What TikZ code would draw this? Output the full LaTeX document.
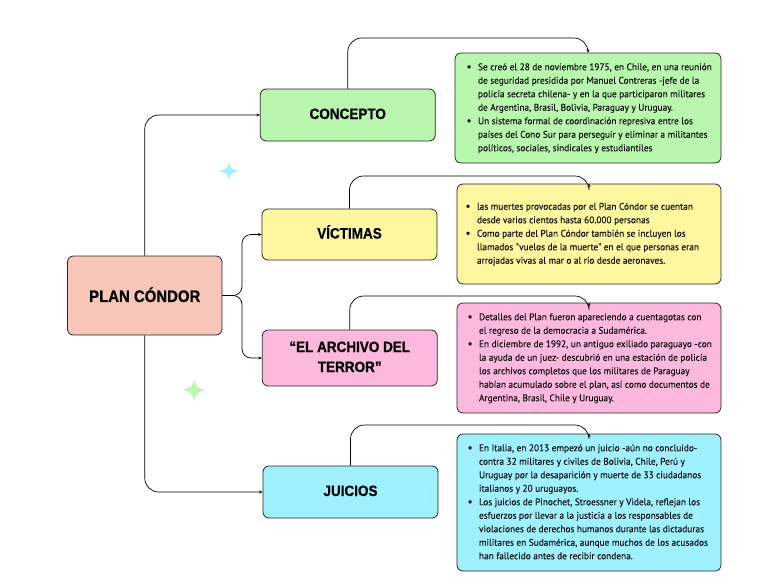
\documentclass[tikz,border=0pt]{standalone}
\usepackage{fontspec}
\setmainfont{PT Sans}
\newfontfamily\headfont[FakeStretch=0.90,FakeBold=0.6,BoldFeatures={FakeStretch=0.90,FakeBold=0.6}]{Liberation Sans}
\newfontfamily\bodyfont[FakeStretch=0.972,FakeBold=0.12]{PT Sans}
\usetikzlibrary{arrows.meta}
\definecolor{cgreen}{HTML}{B9F6AE}
\definecolor{cyellow}{HTML}{FFF6A0}
\definecolor{cpink}{HTML}{FDB9DD}
\definecolor{ccyan}{HTML}{A0F1FF}
\definecolor{csalmon}{HTML}{F8C6B8}
\definecolor{ink}{HTML}{111111}
\newcommand{\bul}{\makebox[0pt][r]{\raisebox{0pt}{\fontsize{11}{11}\selectfont\textbullet}\hspace{6.5pt}}}
\newcommand{\bodytext}[3]{\makebox[#1pt][l]{\hspace{#2pt}\begin{tabular}{@{}l@{}}#3\end{tabular}}}
\newcommand{\headraise}[1]{\raisebox{1.8pt}{\begin{tabular}{@{}c@{}}#1\end{tabular}}}
\tikzset{
  x=1pt,y=-1pt,
  box/.style={draw=black!85,line width=0.8pt,rounded corners=6pt,inner sep=0pt,anchor=center},
  headbox/.style={box,align=center,text=black,font=\headfont\bfseries\fontsize{15}{20}\selectfont},
  textbox/.style={box,text=ink,font=\bodyfont\fontsize{9.6}{13.5}\selectfont},
  link/.style={draw=black,line width=0.7pt,-{Stealth[length=3.5pt,width=3pt]}}
}
\newcommand{\starshape}[4]{\fill[#4] (#1,#2-#3) .. controls (#1+0.12*#3,#2-0.12*#3-2) and (#1+0.2*#3,#2-0.2*#3) .. (#1+#3,#2)
 .. controls (#1+0.2*#3,#2+0.2*#3) and (#1+0.12*#3,#2+0.12*#3+2) .. (#1,#2+#3)
 .. controls (#1-0.12*#3,#2+0.12*#3+2) and (#1-0.2*#3,#2+0.2*#3) .. (#1-#3,#2)
 .. controls (#1-0.2*#3,#2-0.2*#3) and (#1-0.12*#3,#2-0.12*#3-2) .. cycle;}
\begin{document}
\begin{tikzpicture}
\useasboundingbox[fill=white] (0,0) rectangle (768,576);
% main nodes
\node[headbox,fill=csalmon,minimum width=154.5pt,minimum height=79pt] (plan) at (144.75,295.5) {\raisebox{1.8pt}{\fontsize{16.6}{20}\selectfont PLAN CÓNDOR}};
\node[headbox,fill=cgreen,minimum width=175pt,minimum height=52pt] (concepto) at (347.75,115) {\headraise{CONCEPTO}};
\node[headbox,fill=cyellow,minimum width=175pt,minimum height=51pt] (victimas) at (349.5,234.5) {\headraise{VÍCTIMAS}};
\node[headbox,fill=cpink,minimum width=175pt,minimum height=56pt] (archivo) at (349.75,358) {\headraise{“EL ARCHIVO DEL\\TERROR”}};
\node[headbox,fill=ccyan,minimum width=175pt,minimum height=52pt] (juicios) at (350.5,492) {\headraise{JUICIOS}};
% text boxes
\node[textbox,fill=cgreen,minimum width=266pt,minimum height=110pt] (tconcepto) at (588,108) {\bodytext{266}{23}{%
\bul Se creó el 28 de noviembre 1975, en Chile, en una reunión\\
de seguridad presidida por Manuel Contreras -jefe de la\\
policía secreta chilena- y en la que participaron militares\\
de Argentina, Brasil, Bolivia, Paraguay y Uruguay.\\
\bul Un sistema formal de coordinación represiva entre los\\
países del Cono Sur para perseguir y eliminar a militantes\\
políticos, sociales, sindicales y estudiantiles}};
\node[textbox,fill=cyellow,minimum width=264pt,minimum height=100pt] (tvictimas) at (589,234) {\bodytext{264}{20}{%
\bul las muertes provocadas por el Plan Cóndor se cuentan\\
desde varios cientos hasta 60.000 personas\\
\bul Como parte del Plan Cóndor también se incluyen los\\
llamados "vuelos de la muerte" en el que personas eran\\
arrojadas vivas al mar o al río desde aeronaves.}};
\node[textbox,fill=cpink,minimum width=264pt,minimum height=110pt] (tarchivo) at (589,358) {\bodytext{264}{22}{%
\bul Detalles del Plan fueron apareciendo a cuentagotas con\\
el regreso de la democracia a Sudamérica.\\
\bul En diciembre de 1992, un antiguo exiliado paraguayo -con\\
la ayuda de un juez- descubrió en una estación de policía\\
los archivos completos que los militares de Paraguay\\
habían acumulado sobre el plan, así como documentos de\\
Argentina, Brasil, Chile y Uruguay.}};
\node[textbox,fill=ccyan,minimum width=264pt,minimum height=137pt] (tjuicios) at (589,502.5) {\bodytext{264}{22}{%
\bul En Italia, en 2013 empezó un juicio -aún no concluido-\\
contra 32 militares y civiles de Bolivia, Chile, Perú y\\
Uruguay por la desaparición y muerte de 33 ciudadanos\\
italianos y 20 uruguayos.\\
\bul Los juicios de Pinochet, Stroessner y Videla, reflejan los\\
esfuerzos por llevar a la justicia a los responsables de\\
violaciones de derechos humanos durante las dictaduras\\
militares en Sudamérica, aunque muchos de los acusados\\
han fallecido antes de recibir condena.}};
% connectors
\coordinate (k1) at (0,38);
\coordinate (k2) at (0,176);
\coordinate (k3) at (0,296);
\coordinate (k4) at (0,425);
\draw[link,rounded corners=14pt] (concepto.north) |- (k1-|tconcepto.north) [rounded corners=5pt] -- (tconcepto.north);
\draw[link,rounded corners=14pt] (victimas.north) |- (k2-|tvictimas.north) [rounded corners=5pt] -- (tvictimas.north);
\draw[link,rounded corners=14pt] (archivo.north) |- (k3-|tarchivo.north) [rounded corners=5pt] -- (tarchivo.north);
\draw[link,rounded corners=14pt] (juicios.north) |- (k4-|tjuicios.north) [rounded corners=5pt] -- (tjuicios.north);
\draw[link,rounded corners=14pt] (plan.north) |- (concepto.west);
\draw[link,rounded corners=14pt] (plan.south) |- (juicios.west);
\coordinate (m) at (242,295.5);
\draw[link,rounded corners=9pt] (plan.east) -- (m) |- (victimas.west);
\draw[link,rounded corners=9pt] (plan.east) -- (m) |- (archivo.west);
% stars
\starshape{229}{171}{9.5}{ccyan}
\starshape{194}{390}{11.5}{cgreen}
\end{tikzpicture}
\end{document}
